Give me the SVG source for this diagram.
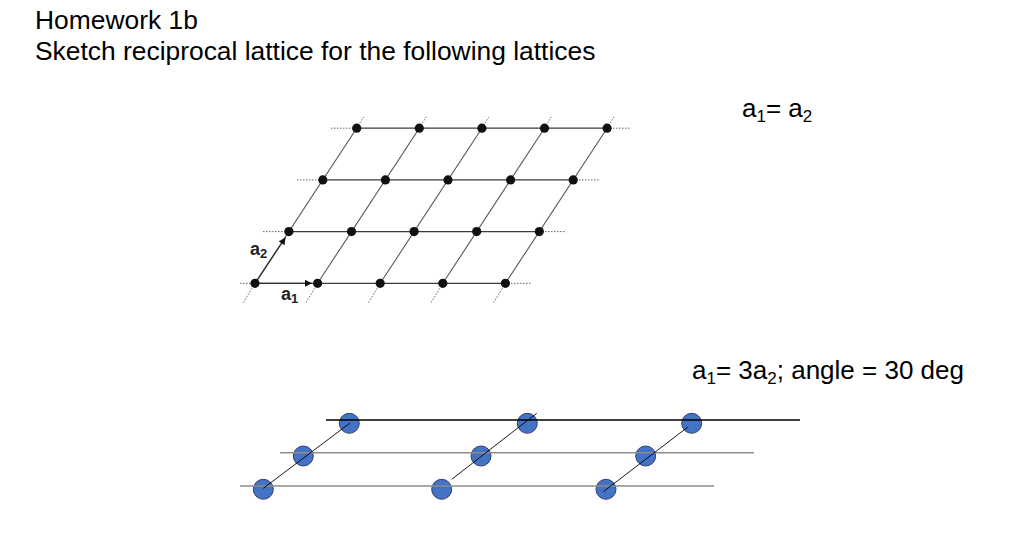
<svg xmlns="http://www.w3.org/2000/svg" width="1024" height="558" viewBox="0 0 1024 558">
  <style>
    .t { font-family: "Liberation Sans", Arial, sans-serif; fill: #000; }
    .big { font-size: 26px; }
    .head { font-size: 26.4px; }
    .lbl { font-size: 18px; font-weight: bold; fill: #222; }
    .hl { stroke: #3a3a3a; stroke-width: 1.3; fill: none; }
    .dl { stroke: #555; stroke-width: 1.1; fill: none; }
    .dot { stroke: #666; stroke-width: 1; stroke-dasharray: 1.5 1.5; fill: none; }
    .pt { fill: #111; }
    .bc { fill: #4472C4; stroke: #2F3F6F; stroke-width: 1; }
    .gl { stroke: #8c8c8c; stroke-width: 1.4; }
    .bl { stroke: #000; stroke-width: 1.4; }
    .dg { stroke: #000; stroke-width: 0.9; }
  </style>
  <defs>
    <marker id="arr" viewBox="0 0 10 10" refX="10" refY="5" markerWidth="8" markerHeight="7" markerUnits="userSpaceOnUse" orient="auto">
      <path d="M0,0 L10,5 L0,10 z" fill="#111"/>
    </marker>
  </defs>
  <rect width="1024" height="558" fill="#fff"/>

  <g id="title">
    <text class="t head" x="35" y="28.5">Homework 1b</text>
    <text class="t head" x="35" y="60">Sketch reciprocal lattice for the following lattices</text>
  </g>

  <g id="label-square">
    <text class="t big" x="742" y="117">a<tspan font-size="17" dy="5">1</tspan><tspan dy="-5">= a</tspan><tspan font-size="17" dy="5">2</tspan></text>
  </g>
  <g id="label-oblique">
    <text class="t big" x="692" y="379">a<tspan font-size="17" dy="5">1</tspan><tspan dy="-5">= 3a</tspan><tspan font-size="17" dy="5">2</tspan><tspan dy="-5">; angle = 30 deg</tspan></text>
  </g>

  <!-- Lattice 1 -->
  <g id="lattice1-connectors">
    <line class="hl" x1="255" y1="283.3" x2="505.4" y2="283.3"/>
    <line class="hl" x1="288.9" y1="231.6" x2="539.3" y2="231.6"/>
    <line class="hl" x1="322.8" y1="179.9" x2="573.2" y2="179.9"/>
    <line class="hl" x1="356.7" y1="128.2" x2="607.1" y2="128.2"/>
    <line class="dot" x1="240" y1="283.3" x2="253" y2="283.3"/>
    <line class="dot" x1="508" y1="283.3" x2="532" y2="283.3"/>
    <line class="dot" x1="263" y1="231.6" x2="287" y2="231.6"/>
    <line class="dot" x1="542" y1="231.6" x2="566" y2="231.6"/>
    <line class="dot" x1="297" y1="179.9" x2="321" y2="179.9"/>
    <line class="dot" x1="576" y1="179.9" x2="599" y2="179.9"/>
    <line class="dot" x1="331" y1="128.2" x2="355" y2="128.2"/>
    <line class="dot" x1="610" y1="128.2" x2="631" y2="128.2"/>
    <line class="dl" x1="255" y1="283.3" x2="356.7" y2="128.2"/>
    <line class="dl" x1="317.6" y1="283.3" x2="419.3" y2="128.2"/>
    <line class="dl" x1="380.2" y1="283.3" x2="481.9" y2="128.2"/>
    <line class="dl" x1="442.8" y1="283.3" x2="544.5" y2="128.2"/>
    <line class="dl" x1="505.4" y1="283.3" x2="607.1" y2="128.2"/>
    <line class="dot" x1="255" y1="283.3" x2="243" y2="303"/>
    <line class="dot" x1="317.6" y1="283.3" x2="305.6" y2="303"/>
    <line class="dot" x1="380.2" y1="283.3" x2="368.2" y2="303"/>
    <line class="dot" x1="442.8" y1="283.3" x2="430.8" y2="303"/>
    <line class="dot" x1="505.4" y1="283.3" x2="493.4" y2="303"/>
    <line class="dot" x1="356.7" y1="128.2" x2="363.5" y2="117"/>
    <line class="dot" x1="419.3" y1="128.2" x2="426.1" y2="117"/>
    <line class="dot" x1="481.9" y1="128.2" x2="488.7" y2="117"/>
    <line class="dot" x1="544.5" y1="128.2" x2="551.3" y2="117"/>
    <line class="dot" x1="607.1" y1="128.2" x2="613.9" y2="117"/>
    <line x1="255" y1="283.3" x2="312" y2="283.3" stroke="#333" stroke-width="1.3" marker-end="url(#arr)"/>
    <line x1="255" y1="283.3" x2="285.5" y2="237.5" stroke="#333" stroke-width="1.3" marker-end="url(#arr)"/>
  </g>

  <g id="lattice1-points">
    <circle class="pt" cx="255" cy="283.3" r="4.6"/>
    <circle class="pt" cx="317.6" cy="283.3" r="4.6"/>
    <circle class="pt" cx="380.2" cy="283.3" r="4.6"/>
    <circle class="pt" cx="442.8" cy="283.3" r="4.6"/>
    <circle class="pt" cx="505.4" cy="283.3" r="4.6"/>
    <circle class="pt" cx="288.9" cy="231.6" r="4.6"/>
    <circle class="pt" cx="351.5" cy="231.6" r="4.6"/>
    <circle class="pt" cx="414.1" cy="231.6" r="4.6"/>
    <circle class="pt" cx="476.7" cy="231.6" r="4.6"/>
    <circle class="pt" cx="539.3" cy="231.6" r="4.6"/>
    <circle class="pt" cx="322.8" cy="179.9" r="4.6"/>
    <circle class="pt" cx="385.4" cy="179.9" r="4.6"/>
    <circle class="pt" cx="448" cy="179.9" r="4.6"/>
    <circle class="pt" cx="510.6" cy="179.9" r="4.6"/>
    <circle class="pt" cx="573.2" cy="179.9" r="4.6"/>
    <circle class="pt" cx="356.7" cy="128.2" r="4.6"/>
    <circle class="pt" cx="419.3" cy="128.2" r="4.6"/>
    <circle class="pt" cx="481.9" cy="128.2" r="4.6"/>
    <circle class="pt" cx="544.5" cy="128.2" r="4.6"/>
    <circle class="pt" cx="607.1" cy="128.2" r="4.6"/>
  </g>

  <g id="lattice1-labels">
    <text class="t lbl" x="250" y="255">a<tspan font-size="13" dy="3">2</tspan></text>
    <text class="t lbl" x="281" y="299.5">a<tspan font-size="13" dy="3">1</tspan></text>
  </g>

  <!-- Lattice 2 -->
  <g id="lattice2-points">
    <circle class="bc" cx="349.3" cy="423.3" r="10"/>
    <circle class="bc" cx="527.3" cy="423.3" r="10"/>
    <circle class="bc" cx="691.7" cy="423.3" r="10"/>
    <circle class="bc" cx="303.3" cy="456" r="10"/>
    <circle class="bc" cx="481" cy="456" r="10"/>
    <circle class="bc" cx="645.7" cy="456" r="10"/>
    <circle class="bc" cx="263.3" cy="489.3" r="10"/>
    <circle class="bc" cx="441.7" cy="489.3" r="10"/>
    <circle class="bc" cx="606" cy="489.3" r="10"/>
  </g>
  <g id="lattice2-connectors">
    <line class="bl" x1="326" y1="420" x2="800" y2="420"/>
    <line class="gl" x1="280" y1="452.7" x2="754" y2="452.7"/>
    <line class="gl" x1="240" y1="486" x2="714" y2="486"/>
    <line class="dg" x1="263.3" y1="488.3" x2="350" y2="423"/>
    <line class="dg" x1="451.7" y1="479.3" x2="536.7" y2="413.3"/>
    <line class="dg" x1="603.3" y1="491.7" x2="688.3" y2="426.7"/>
  </g>
</svg>
